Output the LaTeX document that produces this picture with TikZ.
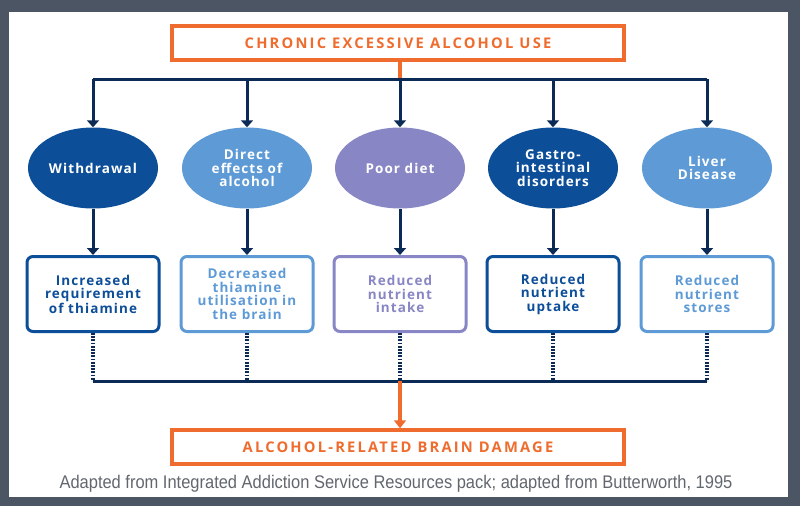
\documentclass[tikz,border=0pt]{standalone}
\usepackage{fontspec}
\setmainfont{Open Sans}
\newfontfamily\capfont[FakeStretch=0.9]{Liberation Sans}
\usetikzlibrary{arrows.meta,shapes.geometric}
\definecolor{frame}{HTML}{4B5563}
\definecolor{navy}{HTML}{0B2A55}
\definecolor{orng}{HTML}{EF6C2E}
\definecolor{dblue}{HTML}{0D4E99}
\definecolor{lblue}{HTML}{5E9BD6}
\definecolor{lav}{HTML}{8886C4}
\definecolor{capgray}{HTML}{62676E}
\tikzset{
  x=1pt,y=-1pt,
  obox/.style={draw=orng,line width=3.5pt,minimum width=452pt,minimum height=34pt,inner sep=0pt,
    text=orng,font=\bfseries\addfontfeature{LetterSpace=15}\fontsize{14.7}{17}\selectfont},
  circ/.style={ellipse,minimum width=130pt,minimum height=81pt,inner sep=0pt,text=white,
    align=center,font=\bfseries\addfontfeature{LetterSpace=8}\fontsize{13.5}{13.5}\selectfont},
  rbox/.style={draw,rounded corners=6pt,line width=3pt,minimum width=132pt,minimum height=75pt,
    inner sep=0pt,align=center,font=\bfseries\addfontfeature{LetterSpace=8}\fontsize{13.5}{13.5}\selectfont},
  navyline/.style={draw=navy,line width=3pt},
  navyarrow/.style={navyline,-{Triangle[width=12pt,length=7pt]}},
  dotline/.style={draw=navy,line width=4pt,dash pattern=on 1.8pt off 1.4pt},
  orarrow/.style={draw=orng,line width=3.5pt,-{Triangle[width=12pt,length=8pt]}}
}
\begin{document}
\begin{tikzpicture}
\fill[frame] (0,0) rectangle (800,506);
\fill[white] (9,12) rectangle (788,497);
\useasboundingbox (0,0) rectangle (800,506);

\node[obox] (top) at (398,43) {CHRONIC EXCESSIVE ALCOHOL USE};
\node[obox] (bot) at (398,447) {ALCOHOL-RELATED BRAIN DAMAGE};

\coordinate (hub) at (400,79);
\coordinate (hl) at (93,79);
\coordinate (hr) at (707,79);
\coordinate (bhub) at (400,381);
\coordinate (bl) at (93,381);
\coordinate (br) at (707,381);

\node[circ,fill=dblue] (c1) at (93,168) {Withdrawal};
\node[circ,fill=lblue] (c2) at (247,168) {Direct\\effects of\\alcohol};
\node[circ,fill=lav] (c3) at (400,168) {Poor diet};
\node[circ,fill=dblue] (c4) at (553,168) {Gastro-\\intestinal\\disorders};
\node[circ,fill=lblue] (c5) at (707,168) {Liver\\Disease};

\node[rbox,draw=dblue,text=dblue] (b1) at (93,294) {Increased\\requirement\\of thiamine};
\node[rbox,draw=lblue,text=lblue] (b2) at (247,294) {Decreased\\thiamine\\utilisation in\\the brain};
\node[rbox,draw=lav,text=lav] (b3) at (400,294) {Reduced\\nutrient\\intake};
\node[rbox,draw=dblue,text=dblue] (b4) at (553,294) {Reduced\\nutrient\\uptake};
\node[rbox,draw=lblue,text=lblue] (b5) at (707,294) {Reduced\\nutrient\\stores};

\draw[draw=orng,line width=3.5pt] (top.south -| hub) -- (hub);
\draw[navyline] (hl) -- (hr);
\foreach \i in {1,...,5} {
  \draw[navyarrow] (c\i.north |- hl) -- (c\i.north);
  \draw[navyarrow] (c\i.south) -- (b\i.north);
  \draw[dotline] (b\i.south) -- (b\i.south |- bl);
}
\draw[navyline] (bl) -- (br);
\draw[orarrow] (bhub) -- (bot.north -| bhub);

\node[text=capgray,font=\capfont\fontsize{18.3}{20}\selectfont] (cap) at (396,484)
  {Adapted from Integrated Addiction Service Resources pack; adapted from Butterworth, 1995};
\end{tikzpicture}
\end{document}
